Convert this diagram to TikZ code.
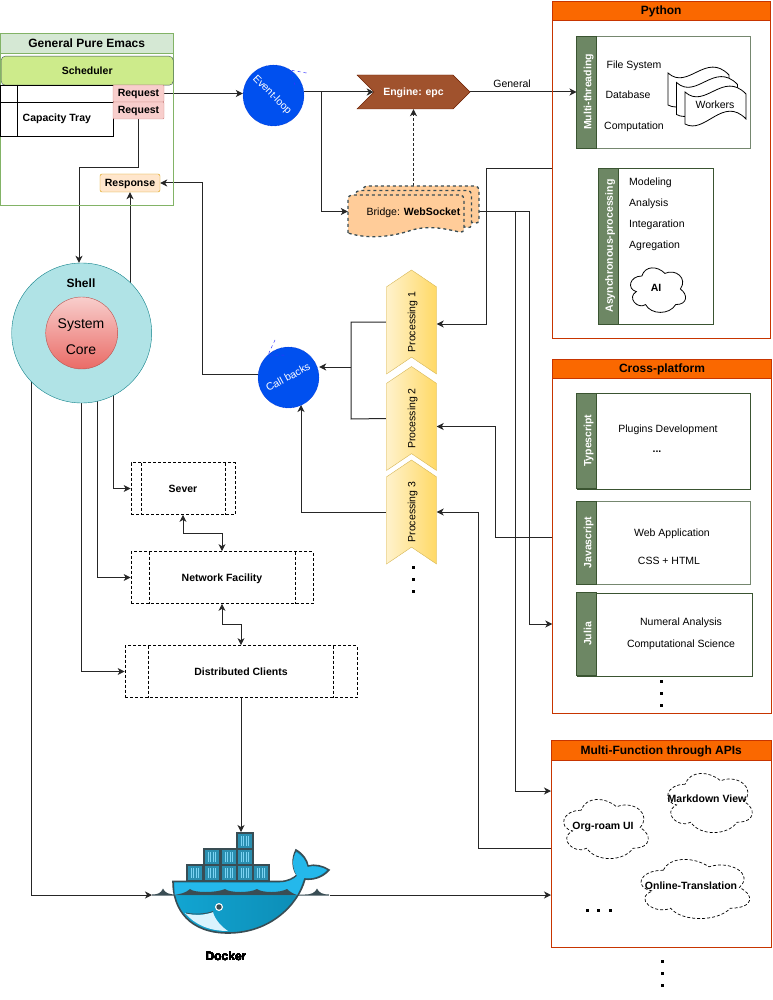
\documentclass[tikz,border=0pt]{standalone}
\usepackage{fontspec}
\setmainfont{Liberation Sans}
\usetikzlibrary{arrows,arrows.meta,positioning,shapes.symbols,backgrounds}
\definecolor{laneedge}{HTML}{C73500}
\definecolor{lanehead}{HTML}{FA6800}
\definecolor{sidefill}{HTML}{6D8764}
\definecolor{sideedge}{HTML}{3A5431}
\definecolor{whaledark}{HTML}{394D54}
\definecolor{whaletop}{HTML}{24B8EB}
\definecolor{whaleleft}{HTML}{12A5D2}
\definecolor{whaleright}{HTML}{0B88B0}
\definecolor{boxfill}{HTML}{2A8FB0}
\definecolor{ballfill}{HTML}{0050EF}
\definecolor{balledge}{HTML}{001DBC}
\definecolor{emacsedge}{HTML}{82B366}
\definecolor{emacshead}{HTML}{D5E8D4}
\definecolor{schedfill}{HTML}{CDEB8B}
\definecolor{reqfill}{HTML}{F8CECC}
\definecolor{reqedge}{HTML}{B85450}
\definecolor{respfill}{HTML}{FFE6CC}
\definecolor{respedge}{HTML}{D79B00}
\definecolor{enginefill}{HTML}{A0522D}
\definecolor{engineedge}{HTML}{6D1F00}
\definecolor{shellfill}{HTML}{B0E3E6}
\definecolor{shelledge}{HTML}{0E8088}
\definecolor{corelow}{HTML}{EA6B66}
\definecolor{proclight}{HTML}{FFF2CC}
\definecolor{procdark}{HTML}{FFD966}
\definecolor{procedge}{HTML}{D6B656}
\definecolor{bridgefill}{HTML}{FFCC99}
\tikzset{
    %Define standard arrow tip
    >={Stealth[length=7pt,width=7pt,inset=2pt]},
    %Define style for boxes
    plain/.style={
           font=\fontsize{10.5}{12}\selectfont,
           inner sep=0pt,
           text height=7.5pt,
           text depth=0pt,
           text centered,
           },
    heavy/.style={
           font=\fontsize{10.5}{12}\selectfont\bfseries,
           inner sep=0pt,
           text height=7.5pt,
           text depth=0pt,
           text centered,
           },
    lanehd/.style={
           rectangle,
           draw=laneedge,
           fill=lanehead,
           anchor=north west,
           inner sep=0pt,
           text height=8pt,
           text depth=0pt,
           font=\fontsize{12}{14}\selectfont\bfseries,
           },
    laneframe/.style={
           rectangle,
           draw=laneedge,
           line width=1pt,
           anchor=north west,
           },
    subframe/.style={
           rectangle,
           draw=sideedge,
           fill=white,
           line width=1pt,
           anchor=north west,
           },
    sidebar/.style={
           rectangle,
           rotate=90,
           draw=sideedge,
           fill=sidefill,
           text=white,
           inner sep=0pt,
           minimum height=20pt,
           text height=9.6pt,
           text depth=0pt,
           font=\fontsize{10.5}{12}\selectfont\bfseries,
           },
    blueball/.style={
           circle,
           draw=balledge, densely dotted,
           fill=ballfill,
           minimum size=61pt,
           inner sep=0pt,
           },
    balltext/.style={
           text=white,
           inner sep=0pt,
           font=\fontsize{10.5}{12}\selectfont,
           },
    reqbox/.style={
           rectangle,
           rounded corners=1pt,
           draw=reqedge!70,
           fill=reqfill,
           minimum width=51pt,
           minimum height=17pt,
           inner sep=0pt,
           text height=6pt,
           text depth=0pt,
           font=\fontsize{10.5}{12}\selectfont\bfseries,
           },
    procbox/.style={
           signal,
           signal from=west,
           signal to=east,
           signal pointer angle=112,
           rotate=90,
           draw=procedge,
           left color=proclight,
           right color=procdark,
           minimum width=104pt,
           minimum height=50pt,
           inner sep=0pt,
           text height=7.5pt,
           text depth=0pt,
           font=\fontsize{10.5}{12}\selectfont,
           },
    servbox/.style={
           rectangle,
           draw=black, dash pattern=on 3pt off 2pt, line width=.7pt,
           minimum height=52pt,
           inner sep=0pt,
           text height=7.5pt,
           text depth=0pt,
           font=\fontsize{10.5}{12}\selectfont\bfseries,
           },
    servline/.style={
           draw=black, dash pattern=on 3pt off 2pt, line width=.7pt,
           },
    % Define arrow style
    pil/.style={
           ->,
           line width=1pt,
           draw=black!85,
           },
    dot/.style={
           fill=black,
           minimum size=3pt,
           inner sep=0pt,
           },
}
\newcommand{\cloudat}[5]{%
  \begin{scope}[shift={(#1,#2)},x=#3pt,y=-#4pt]
  \draw[#5] (.25,.25) .. controls (.05,.25) and (0,.5) .. (.16,.55)
    .. controls (0,.66) and (.18,.9) .. (.31,.8)
    .. controls (.4,1) and (.7,1) .. (.8,.8)
    .. controls (1,.8) and (1,.6) .. (.875,.5)
    .. controls (1,.3) and (.8,.1) .. (.625,.2)
    .. controls (.5,.05) and (.3,.05) .. (.25,.25) -- cycle;
  \end{scope}}
\newcommand{\tapeat}[2]{%
  \begin{scope}[shift={(#1,#2)}]
  \draw[fill=white,line width=.8pt] (0,0) .. controls (20,18) and (38,-22) .. (61,2)
    -- (61,27) .. controls (38,3) and (20,43) .. (0,32) -- cycle;
  \end{scope}}
\newcommand{\sheetat}[2]{%
  \begin{scope}[shift={(#1,#2)}]
  \draw[fill=bridgefill,draw=whaledark,dashed,line width=1.3pt,rounded corners=4pt]
    (0,38) -- (0,0) -- (116,0) -- (116,38) [sharp corners]
    .. controls (98,34) and (82,30) .. (64,35) .. controls (47,41) and (22,45) .. (0,38);
  \end{scope}}
\newcommand{\dockbox}[2]{%
  \begin{scope}[shift={(#1,#2)}]
  \draw[fill=boxfill,draw=whaledark,line width=1.6pt] (0,0) rectangle (16,16);
  \foreach \s in {4,6.5,9,11.5}
    \draw[whaletop!60!white,line width=.7pt] (\s,3) -- (\s,13);
  \end{scope}}
\begin{document}
\begin{tikzpicture}[x=1pt,y=-1pt]
\useasboundingbox (0,0) rectangle (772,1000);

 %general pure emacs
\node[rectangle,draw=emacsedge,line width=1pt,anchor=north west,minimum width=173pt,minimum height=172pt,inner sep=0pt](emacs) at (0,33){};
\node[rectangle,draw=emacsedge,fill=emacshead,anchor=north west,minimum width=173pt,minimum height=20pt,inner sep=0pt,text height=8pt,text depth=0pt,font=\fontsize{12}{14}\selectfont\bfseries](emacshd) at (0,33){General Pure Emacs};
\node[rectangle,rounded corners=4pt,draw=whaledark,fill=schedfill,anchor=north west,minimum width=172pt,minimum height=29pt,inner sep=0pt,text height=7.5pt,text depth=0pt,font=\fontsize{10.5}{12}\selectfont\bfseries](sched) at (1,56){Scheduler};
\node[rectangle,draw=black,anchor=north west,minimum width=113pt,minimum height=51pt,inner sep=0pt](tray) at (0,85){};
\draw[line width=.8pt] (tray.west |- 0,102) -- (tray.east |- 0,102);
\draw[line width=.8pt] (17,85) -- (17,136);
\node[heavy,anchor=west](traytxt) at (22.5,117.5){Capacity Tray};
\node[reqbox](req1) at (138.5,93.5){Request};
\node[reqbox](req2) at (138.5,110.5){Request};
\node[reqbox,draw=respedge,fill=respfill,rounded corners=2pt,minimum width=60pt,minimum height=18pt,text height=7.5pt](response) at (130,183){Response};

 %centre
\node[blueball](evloop) at (273.5,95.5){};
\node[balltext,rotate=-45](evtext) at (272,95){Event-loop};
\draw[blue!80,dashed,line width=.5pt] (306.5,73) -- (290,70) -- (295,85);
\node[signal,signal from=west,signal to=east,draw=engineedge,fill=enginefill,text=white,minimum width=113pt,minimum height=34pt,inner sep=0pt,text height=7.5pt,text depth=0pt,font=\fontsize{10.5}{12}\selectfont\bfseries](engine) at (413.5,92){Engine: epc};
\sheetat{363}{186}
\sheetat{355.5}{190.5}
\sheetat{348}{195}
\node[plain,minimum width=131pt,minimum height=51pt](bridge) at (413.5,211.5){Bridge: \textbf{WebSocket}};
\node[plain](general) at (512,84){General};

\node[blueball](callbacks) at (288.5,377.5){};
\node[balltext,rotate=28](cbtext) at (288,377){Call backs};
\draw[blue!80,dashed,line width=.5pt] (275,340) -- (268,355) -- (285,355);
\node[procbox](proc1) at (411.5,322){Processing 1};
\node[procbox](proc2) at (411.5,418.5){Processing 2};
\node[procbox](proc3) at (411.5,512){Processing 3};
\foreach \yy in {567,579,591}
  \node[dot] at (413,\yy){};

 %shell
\node[circle,draw=shelledge,fill=shellfill,minimum size=140pt,inner sep=0pt](shell) at (81.7,333){};
\node[heavy,text height=8pt,font=\fontsize{12}{13}\selectfont\bfseries](shelltxt) at (81,283){Shell};
\node[circle,draw=reqedge,top color=reqfill,bottom color=corelow,minimum size=72pt,inner sep=0pt](core) at (81.7,333){};
\node[plain,text height=10pt,font=\fontsize{14}{16}\selectfont](coretxt1) at (81,323){System};
\node[plain,text height=10pt,font=\fontsize{14}{16}\selectfont](coretxt2) at (81,349){Core};

 %services
\node[servbox,minimum width=104pt](sever) at (183,488.5){Sever};
\draw[servline] (141.5,462.5) -- (141.5,514.5) (225,462.5) -- (225,514.5);
\node[servbox,minimum width=182pt](network) at (222,577.5){Network Facility};
\draw[servline] (149.5,551.5) -- (149.5,603.5) (295,551.5) -- (295,603.5);
\node[servbox,minimum width=232pt](clients) at (241,671.5){Distributed Clients};
\draw[servline] (148.5,645.5) -- (148.5,697.5) (333,645.5) -- (333,697.5);

 %python
\node[laneframe,minimum width=218pt,minimum height=337pt,inner sep=0pt](python) at (552,1){};
\node[lanehd,minimum width=218pt,minimum height=19pt](pythonhd) at (552,1){Python};
\node[subframe,draw=sideedge!70,minimum width=173.5pt,minimum height=112pt,inner sep=0pt](mthread) at (576.5,36){};
\node[sidebar,minimum width=112pt](mthreadbar) at (586.5,92){Multi-threading};
\node[plain](fs) at (634,65){File System};
\node[plain](db) at (628,95){Database};
\node[plain](comp) at (634,126){Computation};
\tapeat{668}{73}
\tapeat{676.5}{82.5}
\tapeat{685}{92}
\node[plain](workers) at (715,105){Workers};
\node[subframe,minimum width=115pt,minimum height=156pt,inner sep=0pt](async) at (598,168){};
\node[sidebar,minimum width=156pt](asyncbar) at (608,246){Asynchronous-processing};
\node[plain,anchor=west](mod) at (629,182){Modeling};
\node[plain,anchor=west](ana) at (629,203){Analysis};
\node[plain,anchor=west](integ) at (629,224){Integaration};
\node[plain,anchor=west](agr) at (629,245){Agregation};
\cloudat{626.5}{263}{61.5}{52}{line width=.8pt}
\node[heavy](ai) at (656,288){AI};

 %cross platform
\node[laneframe,minimum width=219pt,minimum height=354pt,inner sep=0pt](cross) at (552.3,359){};
\node[lanehd,minimum width=219pt,minimum height=19pt](crosshd) at (552.3,359){Cross-platform};
\node[subframe,minimum width=173.5pt,minimum height=95.5pt,inner sep=0pt](tscript) at (576.5,393){};
\node[sidebar,minimum width=95.5pt](tscriptbar) at (586.5,440.7){Typescript};
\node[plain](plug) at (668,429){Plugins Development};
\node[heavy](etc) at (657,448.5){...};
\node[subframe,draw=sideedge!70,minimum width=173.5pt,minimum height=83pt,inner sep=0pt](jscript) at (576.5,501){};
\node[sidebar,minimum width=83pt](jscriptbar) at (586.5,542.5){Javascript};
\node[plain](web) at (672,533){Web Application};
\node[plain](css) at (669,561){CSS + HTML};
\node[subframe,minimum width=175pt,minimum height=83pt,inner sep=0pt](julia) at (576.5,592.5){};
\node[sidebar,minimum width=83pt](juliabar) at (586.5,634){Julia};
\node[plain](num) at (681,622){Numeral Analysis};
\node[plain](sci) at (681,644){Computational Science};
\foreach \yy in {681,693,705}
  \node[dot] at (661,\yy){};

 %multi function
\node[laneframe,minimum width=220pt,minimum height=207pt,inner sep=0pt](multi) at (551,740){};
\node[lanehd,minimum width=220pt,minimum height=20pt](multihd) at (551,740){Multi-Function through APIs};
\cloudat{661.5}{767}{94.5}{69}{densely dashed,line width=.7pt}
\node[heavy](mdview) at (707,799){Markdown View};
\cloudat{557.5}{793}{94.5}{69}{densely dashed,line width=.7pt}
\node[heavy](orgui) at (603,826){Org-roam UI};
\cloudat{633}{853}{121.5}{69}{densely dashed,line width=.7pt}
\node[heavy](trans) at (691,886){Online-Translation};
\foreach \xx in {587,598.5,610.5}
  \node[dot] at (\xx,910){};
\foreach \yy in {961,973,985}
  \node[dot] at (662.7,\yy){};

 %docker whale
\coordinate (dockerin) at (152,895);
\coordinate (dockerout) at (330,895);
\coordinate (dockertop) at (241,832);
\fill[whaledark] (152,894.5) .. controls (158,894.5) and (161,893) .. (163,888.5) .. controls (165,893) and (169,894.5) .. (176,894.5) -- (305,894.5)
  .. controls (311,894.5) and (315,893) .. (317,888.5) .. controls (319,893) and (323,894.5) .. (329,894.5) -- (329,895.5) -- (152,895.5) -- cycle;
\draw[whaledark,line width=1.6pt,left color=whaleleft,right color=whaleright]
  (173,881.5) -- (280,881.5) .. controls (288,881.5) and (294,878) .. (297,875)
  .. controls (292,868) and (292,858) .. (296,850) .. controls (303,854) and (307,860) .. (308,866)
  .. controls (315,864) and (323,866) .. (329,870) .. controls (322,878) and (312,880) .. (305,879)
  .. controls (298,905) and (270,933) .. (228,933) .. controls (190,933) and (173,910) .. (173,881.5) -- cycle;
\fill[whaletop] (174.5,882.5) -- (280,882.5) .. controls (288,882.5) and (294,879) .. (297,876)
  .. controls (292,868) and (292,859) .. (296,852) .. controls (302,856) and (306,860) .. (307.5,867)
  .. controls (314,865) and (322,867) .. (327,870) .. controls (320,877) and (312,879) .. (304,878)
  .. controls (302,884) and (300,890) .. (297,895) -- (174.5,895) -- cycle;
\fill[whaledark] (174,895) .. controls (180,894) and (186,893) .. (190,889) .. controls (194,893) and (216,893) .. (225,889)
  .. controls (230,893) and (250,893) .. (257,889) .. controls (262,893) and (280,893) .. (287,889)
  .. controls (290,892) and (294,894) .. (297,895) -- cycle;
\fill[cyan!15!white] (185,913) .. controls (195,916) and (206,915) .. (213,912)
  .. controls (215,920) and (222,927) .. (228,931) .. controls (210,931) and (195,925) .. (185,913) -- cycle;
\draw[whaledark,line width=.8pt] (186,913) .. controls (195,915) and (206,914) .. (213,911.5);
\fill[white] (219,907) circle (4pt);
\fill[whaledark] (219,907) circle (2.7pt);
\foreach \xx in {187,204,221,237,253}
  \dockbox{\xx}{865}
\foreach \xx in {204,221,237}
  \dockbox{\xx}{849}
\dockbox{237}{833}
\node[heavy,text height=8pt,font=\fontsize{12}{14}\selectfont\bfseries](docker) at (226,956){Docker};

 %connectors
\begin{pgfonlayer}{background}
\draw[pil] (req1.east) -- (req1.east -| evloop.west);
\draw[pil] (evloop.east |- engine.west) -- (engine.west);
\draw[pil] (321,92) |- (bridge.west);
\draw[pil,densely dashed] (bridge.north) -- (bridge.north |- engine.south);
\draw[pil] (engine.east) -- (engine.east -| mthread.west);
\draw[pil] (req2.south) |- (79,168) -- ([xshift=-2.7pt]shell.north);
\draw[pil] (response.south |- shell.center) -- (response.south);
\draw[pil] ([yshift=3.5pt]callbacks.west) -- (202,374) |- (response.east);
\draw[pil] (python.west |- 0,169) -- (486,169) |- ([yshift=-2pt]proc1.south);
\draw[pil] (bridge.east) -- (529,211.5) |- (cross.west |- 0,624);
\draw[pil] (515,211.5) |- (multi.west |- 0,791);
\draw[pil] (cross.west |- 0,537) -- (495,537) |- ([yshift=-8pt]proc2.south);
\draw[pil] (multi.west |- 0,848) -- (478,848) |- (proc3.south);
\draw[line width=1pt,black!85] (proc1.north) -- (351,322) -- (351,419) -- (proc2.north);
\draw[pil] (351,367) -- (callbacks.east |- 0,367);
\draw[pil] (proc3.north) -| (301,405);
\draw[pil] ([xshift=32pt]shell.center) |- (sever.west);
\draw[pil] ([xshift=16pt]shell.center) |- (network.west);
\draw[pil] (shell.center) |- (clients.west);
\draw[pil] ([xshift=-50pt]shell.center) |- (dockerin);
\draw[pil] (dockerout) -- (multi.west |- dockerout);
\draw[pil,<->] (sever.south) |- (222,533) -- (network.north);
\draw[pil,<->] (network.south) |- (241,624) -- (clients.north);
\draw[pil] (clients.south) -- (dockertop);
\end{pgfonlayer}

\end{tikzpicture}
\end{document}
